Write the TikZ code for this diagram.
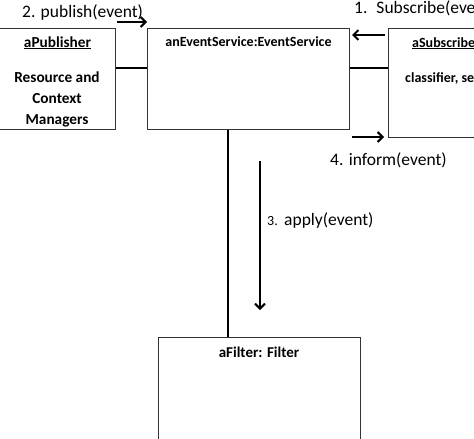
\documentclass[tikz,border=0pt]{standalone}
\usepackage{fontspec}
\setmainfont{Carlito}
\usetikzlibrary{arrows.meta,calc}
\begin{document}
\begin{tikzpicture}[x=1pt,y=-1pt,
 box/.style={draw=black!80, line width=1.3pt, inner sep=0},
 conn/.style={line width=2pt},
 msg/.style={line width=2pt, -{Straight Barb[length=5pt,width=10pt]}},
 lbl/.style={inner sep=0, font=\fontsize{17.5}{20}\selectfont, anchor=base west},
 numsm/.style={inner sep=0, font=\fontsize{14}{16}\selectfont, anchor=base west},
 btxt/.style={inner sep=0, font=\bfseries\fontsize{14}{16}\selectfont, anchor=base},
 bbig/.style={btxt, font=\bfseries\fontsize{15.3}{17}\selectfont},
]
\useasboundingbox (0,0) rectangle (474,439);
\clip (0,0) rectangle (474,439);
% boxes
\node[box, minimum width=118pt, minimum height=101pt, anchor=north west] (pub) at (-3,28) {};
\node[box, minimum width=202pt, minimum height=101pt, anchor=north west] (svc) at (147,28) {};
\node[box, minimum width=110pt, minimum height=109pt, anchor=north west] (sub) at (388,28) {};
\node[box, minimum width=202pt, minimum height=120pt, anchor=north west] (filt) at (158,337) {};
% box texts
\node[bbig] (tpub) at (57.5,47) {\underline{aPublisher}};
\node[bbig] (tres) at (57,82) {Resource and};
\node[bbig] (tctx) at (57,103.5) {Context};
\node[bbig] (tman) at (57,124.5) {Managers};
\node[btxt] (tsvc) at (248.5,46) {anEventService:EventService};
\node[btxt, anchor=base west] (tsub) at (412,47) {\underline{aSubscribe}};
\node[btxt, anchor=base west] (tcls) at (405,82) {classifier, se};
\node[bbig, font=\bfseries\fontsize{15}{17}\selectfont] (tfil) at (259,357) {aFilter: Filter};
% connectors
\coordinate (lk) at (0,68);
\coordinate (vx) at (228,0);
\draw[conn] (pub.east |- lk) -- (svc.west |- lk);
\draw[conn] (svc.east |- lk) -- (sub.west |- lk);
\draw[conn] (svc.south -| vx) -- (filt.north -| vx);
% messages
\coordinate (p1) at (117,22); \coordinate (p2) at (147,22);
\coordinate (s1) at (385,35); \coordinate (s2) at (352,35);
\coordinate (i1) at (352,137); \coordinate (i2) at (384,137);
\coordinate (a1) at (260,161); \coordinate (a2) at (260,310);
\draw[msg] (p1) -- (p2);
\draw[msg] (s1) -- (s2);
\draw[msg] (i1) -- (i2);
\draw[msg] (a1) -- (a2);
% labels
\node[lbl] (lp) at (22,17) {2. publish(event)};
\node[lbl] (ls) at (354,13) {1.\hspace{9pt}Subscribe(event};
\node[lbl] (li) at (330,165.5) {4. inform(event)};
\node[numsm] (la3) at (267,225) {3.};
\node[lbl] (la) at (284,225) {apply(event)};
\end{tikzpicture}
\end{document}
